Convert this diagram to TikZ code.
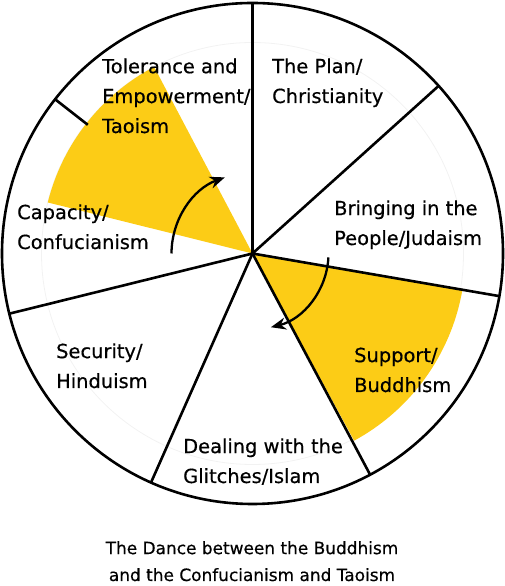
\documentclass[tikz,border=0pt]{standalone}
\usepackage{fontspec}
\setmainfont{DejaVu Sans}
\newfontfamily\labelfont[FakeBold=0.5]{DejaVu Sans}
\usetikzlibrary{arrows.meta,calc}
\definecolor{sunyellow}{RGB}{252,204,22}
\begin{document}
\begin{tikzpicture}[x=1bp,y=1bp,
  lbl/.style={font=\labelfont\fontsize{19.5}{30}\selectfont, align=left, anchor=base west, inner sep=0pt},
  spokeline/.style={line width=2.6bp},
  turn/.style={line width=2.3bp, -{Stealth[length=15bp,width=12bp]}}]
\useasboundingbox (0,0) rectangle (505,586);
\coordinate (C) at (252.5,332.5);
% faint ring
\draw[black!5, line width=0.8bp] (C) circle[radius=211];
% highlighted sectors
\fill[sunyellow] (C) -- ($(C)+(117.8:211)$) arc[start angle=117.8, end angle=166, radius=211] -- cycle;
\fill[sunyellow] (C) -- ($(C)+(-61.5:213)$) arc[start angle=-61.5, end angle=-9.8, radius=213] -- cycle;
% spokes
\coordinate (s1) at ($(C)+(90:251)$);
\coordinate (s2) at ($(C)+(42:251)$);
\coordinate (s3) at ($(C)+(-9.8:251)$);
\coordinate (s4) at ($(C)+(-62:251)$);
\coordinate (s5) at ($(C)+(-113.9:251)$);
\coordinate (s6) at ($(C)+(193.9:251)$);
\coordinate (s7a) at ($(C)+(142:209)$);
\coordinate (s7b) at ($(C)+(142:251)$);
\foreach \s in {s1,s2,s3,s4,s5,s6} \draw[spokeline] (C) -- (\s);
\draw[spokeline] (s7a) -- (s7b);
\draw[line width=2.6bp] (C) circle[radius=250.5];
% arrows
\coordinate (a1s) at ($(C)+(180:81)$);
\coordinate (a2s) at ($(C)+(-3:76)$);
\draw[turn] (a1s) arc[start angle=180, end angle=110, radius=81];
\draw[turn] (a2s) arc[start angle=-3, end angle=-76, radius=76];
% labels (anchor = baseline of last line)
\node[lbl] (taoism) at (102,453) {Tolerance and\\Empowerment/\\Taoism};
\node[lbl] (christ) at (272,483) {The Plan/\\Christianity};
\node[lbl] (judaism) at (334,341) {Bringing in the\\People/Judaism};
\node[lbl] (confuc) at (17,337) {Capacity/\\Confucianism};
\node[lbl] (hindu) at (56,198) {Security/\\Hinduism};
\node[lbl] (islam) at (183,103) {Dealing with the\\Glitches/Islam};
\node[lbl] (buddh) at (354,194) {Support/\\Buddhism};
\node[font=\labelfont\fontsize{17}{27}\selectfont, align=center, anchor=base, inner sep=0pt] (title) at (252,5)
  {The Dance between the Buddhism\\and the Confucianism and Taoism};
\end{tikzpicture}
\end{document}
